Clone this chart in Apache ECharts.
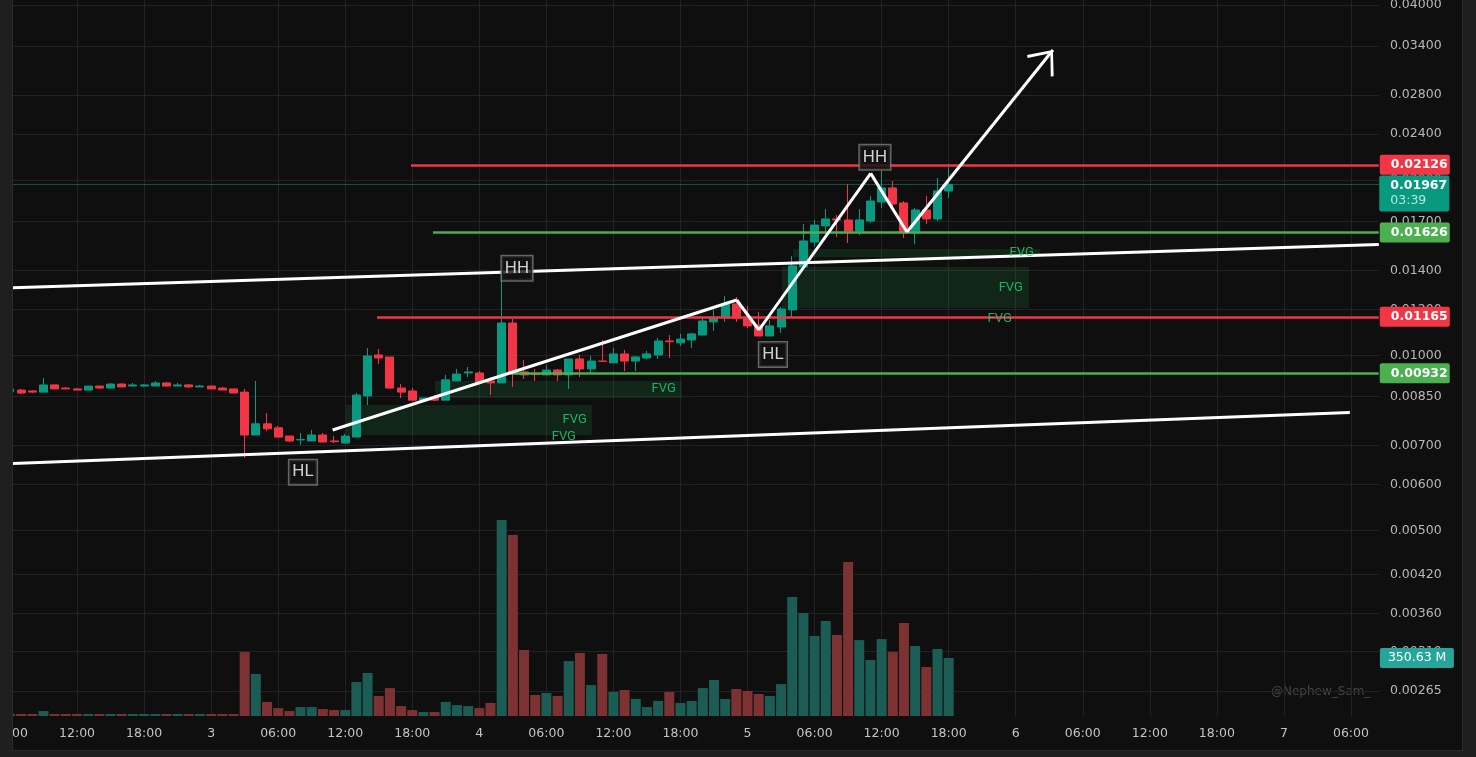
<!DOCTYPE html>
<html><head><meta charset="utf-8">
<script src="https://cdn.jsdelivr.net/npm/echarts@6/dist/echarts.min.js"></script>
<style>
html,body{margin:0;padding:0;background:#1f1f1f;width:1476px;height:757px;overflow:hidden;}
#chart{position:absolute;left:13px;top:0;width:1449px;height:750px;background:#0f0f0f;box-shadow:0 0 0 1px #2b2b2b;}
</style></head><body><div id="chart"></div>
<script>
// hourly slots: first slot = day 2, 06:00
const startDay = 2, startHour = 6, numSlots = 123;

// candles: [open, close, low, high]
const candles = [
[0.00866,0.00876,0.00866,0.00876],
[0.00872,0.00862,0.00859,0.00876],[0.00869,0.00865,0.00862,0.00872],[0.00865,0.00890,0.00865,0.00915],
[0.00890,0.00876,0.00876,0.00890],[0.00879,0.00876,0.00876,0.00883],[0.00876,0.00872,0.00872,0.00879],
[0.00872,0.00886,0.00872,0.00886],[0.00886,0.00879,0.00876,0.00886],[0.00879,0.00893,0.00879,0.00897],
[0.00893,0.00883,0.00883,0.00897],[0.00886,0.00890,0.00886,0.00897],[0.00886,0.00890,0.00883,0.00893],
[0.00886,0.00897,0.00886,0.00904],[0.00897,0.00886,0.00886,0.00900],[0.00886,0.00890,0.00886,0.00897],
[0.00890,0.00883,0.00879,0.00893],[0.00883,0.00886,0.00883,0.00890],[0.00886,0.00876,0.00876,0.00886],
[0.00879,0.00872,0.00872,0.00883],[0.00876,0.00862,0.00862,0.00876],[0.00865,0.00730,0.00667,0.00876],
[0.00730,0.00763,0.00730,0.00904],[0.00763,0.00748,0.00742,0.00796],[0.00751,0.00724,0.00724,0.00757],
[0.00727,0.00713,0.00710,0.00727],[0.00716,0.00717,0.00702,0.00736],[0.00713,0.00730,0.00713,0.00745],
[0.00730,0.00710,0.00710,0.00736],[0.00713,0.00711,0.00707,0.00727],[0.00707,0.00727,0.00707,0.00733],
[0.00724,0.00855,0.00724,0.00862],[0.00852,0.00998,0.00822,0.01030],[0.01002,0.00990,0.00967,0.01026],
[0.00994,0.00879,0.00876,0.00994],[0.00879,0.00865,0.00845,0.00893],[0.00869,0.00838,0.00835,0.00879],
[0.00838,0.00845,0.00838,0.00845],[0.00848,0.00838,0.00835,0.00855],[0.00838,0.00908,0.00838,0.00926],
[0.00904,0.00929,0.00904,0.00948],[0.00933,0.00937,0.00918,0.00955],[0.00933,0.00900,0.00900,0.00940],
[0.00904,0.00897,0.00855,0.00915],[0.00897,0.01137,0.00897,0.01375],[0.01137,0.00933,0.00883,0.01155],
[0.00937,0.00926,0.00911,0.00982],[0.00929,0.00927,0.00904,0.00948],[0.00926,0.00944,0.00926,0.00963],
[0.00944,0.00926,0.00904,0.00948],[0.00926,0.00986,0.00876,0.00986],[0.00986,0.00948,0.00918,0.01002],
[0.00948,0.00978,0.00933,0.00998],[0.00978,0.00977,0.00976,0.01063],[0.00971,0.01006,0.00971,0.01030],
[0.01006,0.00978,0.00940,0.01022],[0.00978,0.00994,0.00940,0.00998],[0.00990,0.01006,0.00986,0.01018],
[0.01002,0.01059,0.00986,0.01072],[0.01059,0.01056,0.00990,0.01084],[0.01051,0.01067,0.01038,0.01089],
[0.01063,0.01089,0.01030,0.01093],[0.01084,0.01146,0.01084,0.01164],[0.01142,0.01160,0.01102,0.01197],
[0.01160,0.01226,0.01142,0.01265],[0.01226,0.01160,0.01142,0.01260],[0.01164,0.01124,0.01115,0.01216],
[0.01128,0.01080,0.01080,0.01188],[0.01080,0.01124,0.01080,0.01151],[0.01119,0.01202,0.01093,0.01211],
[0.01197,0.01425,0.01164,0.01482],[0.01419,0.01573,0.01419,0.01682],[0.01566,0.01675,0.01536,0.01709],
[0.01669,0.01716,0.01585,0.01785],[0.01716,0.01709,0.01598,0.01743],[0.01709,0.01636,0.01560,0.01970],
[0.01636,0.01709,0.01610,0.01785],[0.01702,0.01842,0.01689,0.01879],[0.01835,0.01940,0.01792,0.02075],
[0.01940,0.01821,0.01799,0.01994],[0.01828,0.01623,0.01591,0.01842],[0.01623,0.01778,0.01554,0.01792],
[0.01778,0.01716,0.01682,0.01879],[0.01716,0.01917,0.01702,0.02018],[0.01917,0.01967,0.01864,0.02133]
];

// volume in millions
const volumes = [
12,
12,12,30,12,12,12,12,12,12,12,
12,12,12,12,12,12,12,12,12,12,
387,254,85,48,30,54,54,42,36,36,
206,260,121,169,60,36,24,24,85,66,
60,48,79,1185,1094,399,127,139,121,332,
381,187,375,145,157,103,54,91,145,79,
91,169,218,103,163,151,133,121,193,719,
623,484,574,490,931,459,339,465,387,562,
423,296,405,350.63
];

// price axis tick labels
const priceTicks = [0.04,0.034,0.028,0.024,0.02,0.017,0.014,0.012,0.01,0.0085,0.007,0.006,0.005,0.0042,0.0036,0.0031,0.00265];

// horizontal levels: [startSlot, price, kind]
const levels = [[35.88,0.02126,'red'],[37.85,0.01626,'green'],[32.84,0.01165,'red'],[44.8,0.00932,'green']];
const lastPrice = 0.01967, countdown = '03:39', lastVolumeLabel = '350.63 M';

// channel lines: [[slot, price],[slot, price]]
const channelLines = [
  [[-0.49,0.013058],[122.49,0.01551]],
  [[-0.49,0.006516],[119.9,0.00798]]
];
// swing path points [slot, price]; last segment ends in an arrow
const swingPath = [[28.87,0.007446],[65.03,0.012453],[67.02,0.011059],[77.02,0.020548],[80.27,0.016295],[93.33,0.033476]];

// pivots [slot, price, text]
const pivots = [[26.22,0.006302,'HL'],[45.37,0.014117,'HH'],[68.27,0.01004,'HL'],[77.4,0.0219,'HH']];

// fair value gaps [slotStart, slotEnd, priceTop, priceBottom]
const fvgBoxes = [[30.06,52.08,0.00822,0.00730],[38.03,60.13,0.009039,0.008451],[70.07,92.17,0.015235,0.014762],[69.08,91.18,0.01419,0.012064]];
// FVG text positions [slot, price]
const fvgTexts = [[50.53,0.007754],[49.56,0.007252],[58.5,0.008781],[90.53,0.015032],[89.56,0.013074],[88.57,0.011582]];

const UP='#089981', DOWN='#f23645', VUP='#1b5c54', VDOWN='#7c3132', GREEN='#4caf50';
const FONT='DejaVu Sans';

const categories=[]; const timeGrid=[];
for(let k=0;k<numSlots;k++){
  const t=startHour+k, d=startDay+Math.floor(t/24), h=t%24;
  categories.push(h===0?String(d):String(h).padStart(2,'0')+':00');
  if(h%6===0) timeGrid.push(k);
}
const slotMax = numSlots-0.5;

const chart = echarts.init(document.getElementById('chart'), null, {renderer:'canvas'});

const levelSeries = levels.map(([s,p,kind])=>{
  const col = kind==='red'?DOWN:GREEN;
  return {type:'line', xAxisIndex:1, yAxisIndex:0, data:[], z:8, silent:true, clip:false,
    markLine:{silent:true, z:5, symbol:'none', animation:false, precision:6,
      lineStyle:{color:col, width:2.5, type:'solid'},
      label:{show:true, position:'end', distance:1, formatter:()=>p.toFixed(5), color:'#fff', fontFamily:FONT, fontSize:12.5, fontWeight:'bold',
        backgroundColor:col, padding:[3,7,3,11], width:52, lineHeight:14, borderRadius:2},
      data:[[{coord:[s,p]},{coord:[slotMax-0.01,p]}]]}};
});

const swingSegs=[];
for(let i=0;i<swingPath.length-1;i++){
  const last = i===swingPath.length-2;
  swingSegs.push([{coord:swingPath[i], symbol:'none'},
    {coord:swingPath[i+1], symbol: last?'path://M19,-23L19.01,-23L19,-22.99Z M19,0 L38,21 L35.6,23 L19,4.2 L2.4,23 L0,21 Z':'none', symbolSize:[34,44]}]);
}

const option = {
  animation:false,
  backgroundColor:'#0f0f0f',
  grid:{left:-8.6, right:83.1, top:0, bottom:34, containLabel:false, outerBoundsMode:'none'},
  xAxis:[
    {type:'category', data:categories, boundaryGap:true, axisLine:{show:false}, axisTick:{show:false}, splitLine:{show:false},
     axisLabel:{interval:(i)=>i%6===0, color:'#c3c3c3', fontFamily:FONT, fontSize:12.5, margin:11}},
    {type:'value', min:-0.5, max:slotMax, show:false}
  ],
  yAxis:[
    {type:'log', logBase:10, min:0.002402, max:0.0408, position:'right', show:false},
    {type:'value', min:0, max:4328, show:false}
  ],
  graphic:[{type:'text', left:1258, top:686, style:{text:'@Nephew_Sam_', fill:'#464646', font:'12px "DejaVu Sans"'}}],
  series:[
    {type:'line', xAxisIndex:1, yAxisIndex:0, data:[], z:0, silent:true, clip:false,
     markLine:{silent:true, z:0, symbol:'none', animation:false, precision:6,
       lineStyle:{color:'#232323', width:1, type:'solid'},
       label:{show:true, position:'end', distance:11, color:'#b8b8b8', fontFamily:FONT, fontSize:12.5, formatter:(p)=>Number(p.value).toFixed(5)},
       data: priceTicks.map(v=>({yAxis:v})).concat(timeGrid.map(k=>({xAxis:k, label:{show:false}})))}},
    {type:'line', xAxisIndex:1, yAxisIndex:0, data:[], z:1, silent:true, clip:false,
     markArea:{silent:true, z:1, itemStyle:{color:'rgba(34,171,84,0.15)'},
       data: fvgBoxes.map(b=>[{coord:[b[0],b[2]]},{coord:[b[1],b[3]]}])}},
    {type:'bar', xAxisIndex:0, yAxisIndex:1, barWidth:10, z:2, silent:true,
     data: volumes.map((v,i)=>({value:v, itemStyle:{color: candles[i][1]>=candles[i][0]?VUP:VDOWN}})),
     markLine:{silent:true, z:7, symbol:'none', animation:false, precision:4, lineStyle:{color:'transparent', width:0},
       label:{show:true, position:'end', distance:1, formatter:()=>lastVolumeLabel, color:'#fff', fontFamily:FONT, fontSize:12.5,
         backgroundColor:'#26a69a', padding:[3,5,3,8], width:61, lineHeight:14, borderRadius:2},
       data:[{yAxis:volumes[volumes.length-1]}]}},
    {type:'candlestick', xAxisIndex:0, yAxisIndex:0, data:candles, barWidth:8.5, z:3, silent:true,
     itemStyle:{color:UP, color0:DOWN, borderColor:UP, borderColor0:DOWN, borderWidth:1}},
    {type:'line', xAxisIndex:1, yAxisIndex:0, data:[], z:6, silent:true, clip:false,
     markLine:{silent:true, z:6, symbol:'none', animation:false, precision:6,
       lineStyle:{color:'#ffffff', width:3, type:'solid'}, label:{show:false},
       data: channelLines.map(l=>[{coord:l[0]},{coord:l[1]}]).concat(swingSegs)}},
    ...levelSeries,
    {type:'line', xAxisIndex:1, yAxisIndex:0, data:[], z:9, silent:true, clip:false,
     markLine:{silent:true, z:4, symbol:'none', animation:false, precision:6,
       lineStyle:{color:UP, width:1, type:'dotted'}, label:{show:false},
       data:[{yAxis:lastPrice}]},
     markPoint:{silent:true, z:8, symbol:'rect', symbolSize:1, itemStyle:{color:'transparent'},
       label:{show:true, position:'right', distance:0, offset:[0,9],
         formatter:()=>'{a|'+lastPrice.toFixed(5)+'}\n{b|'+countdown+'}',
         backgroundColor:UP, padding:[3,7,3,11], width:52, borderRadius:2,
         rich:{a:{color:'#fff', fontFamily:FONT, fontSize:12.5, fontWeight:'bold', lineHeight:15},
               b:{color:'rgba(255,255,255,0.72)', fontFamily:FONT, fontSize:12.5, lineHeight:15}}},
       data:[{coord:[slotMax-0.01,lastPrice]}]}},
    {type:'scatter', xAxisIndex:1, yAxisIndex:0, symbol:'circle', symbolSize:1, z:10, silent:true, clip:false,
     itemStyle:{color:'transparent'},
     data: pivots.map(p=>({value:[p[0],p[1]], label:{formatter:p[2]}})),
     label:{show:true, position:'inside', color:'#ffffff', fontFamily:'Roboto', fontSize:17, lineHeight:19,
       padding:[3,3,2,3], backgroundColor:'#111111', borderColor:'#7a7a7a', borderWidth:1.5}},
    {type:'scatter', xAxisIndex:1, yAxisIndex:0, symbol:'circle', symbolSize:1, z:20, silent:true, clip:false,
     itemStyle:{color:'transparent'},
     data: fvgTexts.map(p=>({value:p})),
     label:{show:true, position:'inside', formatter:'FVG', color:'#1fd870', textBorderWidth:0, fontFamily:'Roboto', fontSize:13}}
  ]
};
chart.setOption(option);
</script></body></html>
